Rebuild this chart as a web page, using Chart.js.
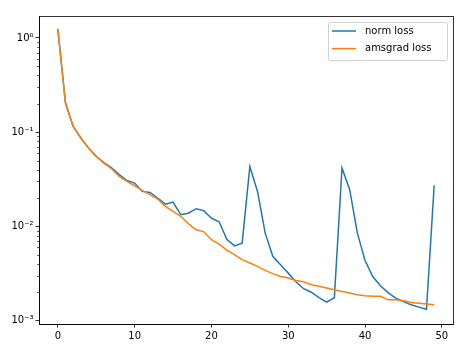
<!DOCTYPE html>
<html>
<head>
<meta charset="utf-8">
<script src="https://cdn.jsdelivr.net/npm/chart.js@4/dist/chart.umd.min.js"></script>
<style>
html,body{margin:0;padding:0;background:#fff;}
#wrap{width:474px;height:357px;position:relative;}
</style>
</head>
<body>
<div id="wrap"><canvas id="c" width="474" height="357"></canvas></div>
<script>
const epochs = [0,1,2,3,4,5,6,7,8,9,10,11,12,13,14,15,16,17,18,19,20,21,22,23,24,25,26,27,28,29,30,31,32,33,34,35,36,37,38,39,40,41,42,43,44,45,46,47,48,49];
const normLoss = [1.25,0.204,0.115,0.0867,0.0679,0.0555,0.0475,0.0418,0.0354,0.0307,0.0288,0.0235,0.0229,0.0200,0.0172,0.0181,0.0133,0.0138,0.0154,0.0147,0.0122,0.0112,0.0073,0.0062,0.00664,0.0432,0.0235,0.00848,0.00478,0.00391,0.00319,0.00258,0.00218,0.0020,0.00175,0.00157,0.00175,0.0416,0.0245,0.00848,0.00434,0.00293,0.00234,0.00198,0.00173,0.00159,0.00147,0.00139,0.00132,0.0273];
const amsgradLoss = [1.25,0.204,0.115,0.0867,0.0679,0.0553,0.047,0.0409,0.0339,0.0300,0.0270,0.0241,0.0217,0.0195,0.0163,0.0144,0.0128,0.0107,0.0092,0.0088,0.00723,0.00647,0.00559,0.00501,0.00443,0.00408,0.00376,0.00341,0.00315,0.00294,0.00283,0.00267,0.00258,0.00240,0.00231,0.00222,0.00213,0.00204,0.00196,0.00188,0.00184,0.00181,0.00181,0.00166,0.00166,0.00162,0.00156,0.00153,0.00150,0.00147];
const seriesNames = ["norm loss","amsgrad loss"];
const xTicks = [0,10,20,30,40,50];
const yTicks = [0.001,0.01,0.1,1];
const yTickLabels = {"0.001":"10\u207B\u00B3","0.01":"10\u207B\u00B2","0.1":"10\u207B\u00B9","1":"10\u2070"};

const BLUE = '#1f77b4', ORANGE = '#ff7f0e';
const FONT = "'DejaVu Sans', sans-serif";

const framePlugin = {
  id: 'frame',
  afterDraw(chart) {
    const ctx = chart.ctx, a = chart.chartArea;
    const ys = chart.scales.y;
    ctx.save();
    // minor ticks on log axis
    ctx.strokeStyle = '#000';
    ctx.lineWidth = 0.6;
    for (let e = -4; e <= 1; e++) {
      for (let m = 2; m <= 9; m++) {
        const v = m * Math.pow(10, e);
        if (v < ys.min || v > ys.max) continue;
        const py = Math.round(ys.getPixelForValue(v)) + 0.5;
        ctx.beginPath();
        ctx.moveTo(a.left, py);
        ctx.lineTo(a.left - 2, py);
        ctx.stroke();
      }
    }
    // frame
    ctx.lineWidth = 0.8;
    ctx.strokeStyle = '#000';
    ctx.strokeRect(Math.round(a.left) + 0.5, Math.round(a.top) + 0.5, Math.round(a.right - a.left), Math.round(a.bottom - a.top));
    // legend
    const lx = 328, ly = 22, lw = 119, lh = 38;
    ctx.fillStyle = 'rgba(255,255,255,0.8)';
    ctx.strokeStyle = '#d0d0d0';
    ctx.lineWidth = 1;
    ctx.beginPath();
    if (ctx.roundRect) ctx.roundRect(lx + 0.5, ly + 0.5, lw, lh, 2); else ctx.rect(lx + 0.5, ly + 0.5, lw, lh);
    ctx.fill();
    ctx.stroke();
    const cols = [BLUE, ORANGE];
    ctx.font = "10px " + FONT;
    ctx.textBaseline = 'middle';
    ctx.textAlign = 'left';
    for (let i = 0; i < seriesNames.length; i++) {
      const yy = ly + 9 + i * 17.6;
      ctx.strokeStyle = cols[i];
      ctx.lineWidth = 1.5;
      ctx.beginPath();
      ctx.moveTo(lx + 4, yy);
      ctx.lineTo(lx + 28, yy);
      ctx.stroke();
      ctx.fillStyle = '#000';
      ctx.fillText(seriesNames[i], lx + 37, yy);
    }
    ctx.restore();
  }
};

new Chart(document.getElementById('c'), {
  type: 'line',
  data: {
    datasets: [
      { label: seriesNames[0], data: epochs.map((x, i) => ({x: x, y: normLoss[i]})), borderColor: BLUE, backgroundColor: BLUE, borderWidth: 1.5, pointRadius: 0, tension: 0, order: 1 },
      { label: seriesNames[1], data: epochs.map((x, i) => ({x: x, y: amsgradLoss[i]})), borderColor: ORANGE, backgroundColor: ORANGE, borderWidth: 1.5, pointRadius: 0, tension: 0, order: 0 }
    ]
  },
  options: {
    responsive: false,
    animation: false,
    devicePixelRatio: 1,
    layout: { padding: { left: 0, top: 16, right: 21, bottom: 0 } },
    plugins: { legend: { display: false }, tooltip: { enabled: false } },
    scales: {
      x: {
        type: 'linear',
        min: -2.45, max: 51.45,
        afterBuildTicks(s) { s.ticks = xTicks.map(v => ({value: v})); },
        afterFit(s) { s.height = 33; },
        grid: { display: true, drawOnChartArea: false, drawTicks: true, tickLength: 3.5, color: '#000', lineWidth: 0.8 },
        border: { display: true, color: '#000', width: 0.8 },
        ticks: { color: '#000', font: { family: FONT, size: 10 }, padding: 3, maxRotation: 0, callback: v => String(v) }
      },
      y: {
        type: 'logarithmic',
        min: 0.00092, max: 1.71,
        afterBuildTicks(s) { s.ticks = yTicks.map(v => ({value: v})); },
        afterFit(s) { s.width = 39; },
        grid: { display: true, drawOnChartArea: false, drawTicks: true, tickLength: 3.5, color: '#000', lineWidth: 0.8 },
        border: { display: true, color: '#000', width: 0.8 },
        ticks: { color: '#000', font: { family: FONT, size: 10 }, padding: 2, callback: v => yTickLabels[String(v)] || '' }
      }
    }
  },
  plugins: [framePlugin]
});
</script>
</body>
</html>
